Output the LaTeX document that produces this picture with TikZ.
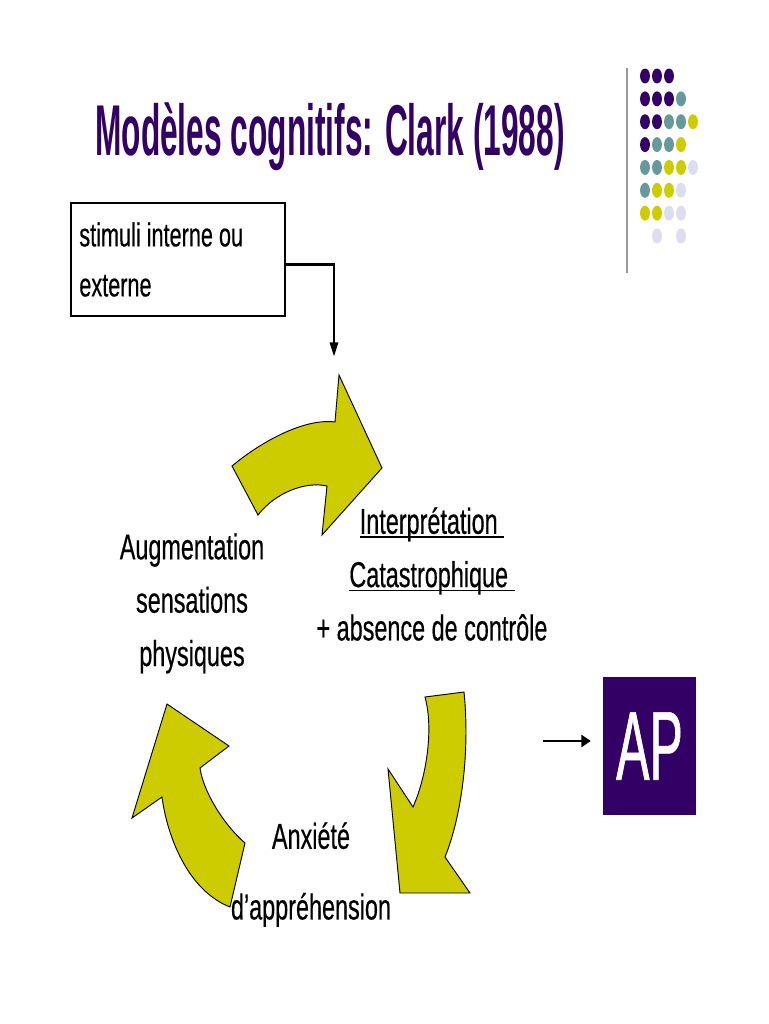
\documentclass[tikz,border=0pt]{standalone}
\usepackage{fontspec}
\setmainfont{Liberation Sans}[FakeStretch=0.65,FakeBold=0.4]
\newfontfamily\titlefont{Liberation Sans}[FakeStretch=0.44]
\newfontfamily\apfont{Liberation Sans}[FakeStretch=0.51,FakeBold=0.6]
\usepackage{tikz}
\usetikzlibrary{arrows.meta,positioning}
\definecolor{clarkpurple}{RGB}{51,0,102}
\definecolor{cycleyellow}{RGB}{204,204,0}
\definecolor{dotP}{RGB}{51,0,102}
\definecolor{dotT}{RGB}{102,153,153}
\definecolor{dotY}{RGB}{204,204,0}
\definecolor{dotL}{RGB}{221,221,238}
\newcommand{\ulspace}[1]{\setbox0\hbox{#1}\rlap{\rule[-3pt]{\wd0}{1.2pt}}\box0}

\begin{document}
\begin{tikzpicture}[x=0.75pt,y=-0.75pt,
  every node/.style={inner sep=0pt},
  body/.style={font=\fontsize{27}{40}\selectfont,align=center,anchor=north},
  stimbox/.style={rectangle,draw,line width=0.8pt,minimum width=160.5pt,
                  minimum height=84.75pt,text width=148pt,align=flush left,
                  font=\fontsize{25}{37.5}\selectfont},
  apbox/.style={rectangle,fill=clarkpurple,minimum width=69.75pt,
                minimum height=103.5pt,text=white,
                font=\apfont\fontsize{73.5}{80}\selectfont},
  cyclearrow/.style={fill=cycleyellow,draw=black,line width=0.7pt,line join=miter},
  feed/.style={-{Triangle[length=11pt,width=6pt]},line width=2.2pt},
  toap/.style={-{Triangle[length=7pt,width=9pt]},line width=2.2pt},
]
\path[fill=white,use as bounding box] (0,0) rectangle (768,1024);

% Title
\node[anchor=base west,text=clarkpurple,
      font=\titlefont\fontsize{54}{60}\selectfont\bfseries] (title) at (95,155)
      {Modèles cognitifs: Clark (1988)};

% Dot pattern
\draw[gray!80,line width=1.5pt] (627,68) -- (627,273);
\foreach \r/\row in {0/{P,P,P},1/{P,P,P,T},2/{P,P,T,T,Y},3/{P,T,T,Y},
                     4/{T,T,Y,Y,L},5/{T,Y,Y,L},6/{Y,Y,L,L},7/{N,L,N,L}}{
  \foreach \c [count=\i from 0] in \row {
    \if\c N\else
      \fill[dot\c] ({645+12*\i},{76+22.86*\r}) ellipse [x radius=3.7pt,y radius=5.6pt];
    \fi
  }
}

% Stimulus
\node[stimbox] (stimuli) at (178,259.5) {stimuli interne ou\\externe};
\coordinate (stimend) at (334,357);
\draw[feed] ([yshift=-4pt]stimuli.east) -| (stimend);

% Cycle arrows
\draw[cyclearrow] (232,466) .. controls (262,441) and (305,418) .. (335,422)
  -- (339,375) -- (382,468) -- (322,535) -- (327,486)
  .. controls (305,481) and (275,493) .. (258,515) -- cycle;
\draw[cyclearrow] (464,692) .. controls (470,750) and (462,815) .. (445,857)
  -- (470,893) -- (400,893) -- (388,769) -- (413,807)
  .. controls (426,778) and (434,730) .. (425,697) -- cycle;
\draw[cyclearrow] (230,907) -- (245,843) .. controls (222,823) and (203,790) .. (200,768)
  -- (229,746) -- (167,704) -- (132,818) -- (162,797)
  .. controls (167,835) and (187,890) .. cycle;

% Cycle labels
\node[body] (interp) at (432,507)
      {\ulspace{Interprétation\ }\\\ulspace{Catastrophique\ }\\+ absence de contrôle};
\node[body] (sensations) at (192,533) {Augmentation\\sensations\\physiques};
\node[body,font=\fontsize{27}{53}\selectfont] (anxiete) at (311,822)
      {Anxiété\\d’appréhension};

% Panic attack
\node[apbox] (ap) at (649.5,746) {AP};
\coordinate (aptail) at (543,741);
\draw[toap] (aptail) -- ([xshift=-9pt]ap.west |- aptail);

\end{tikzpicture}
\end{document}
